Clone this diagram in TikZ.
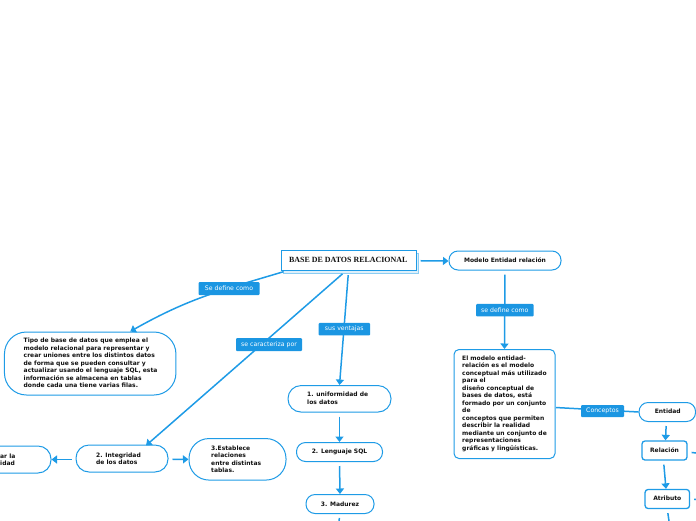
\documentclass[tikz,border=0pt]{standalone}
\usepackage{fontspec}
\setmainfont{DejaVu Sans}
\newfontfamily\titlefont{Liberation Serif}
\usetikzlibrary{arrows.meta,calc}
\definecolor{mapblue}{HTML}{1E9BE6}
\definecolor{mapshadow}{HTML}{8CCDF3}
\definecolor{tagblue}{HTML}{1B96E2}
\definecolor{ink}{HTML}{111111}
\tikzset{
  x=1pt,y=-1pt,
  shapebox/.style={draw=mapblue,fill=white,line width=1pt,inner sep=0pt},
  pill/.style={shapebox,rounded corners=#1},
  txt/.style={anchor=north west,inner sep=0pt,align=left,text=ink,font=\fontsize{6}{7.5}\selectfont\bfseries},
  ctxt/.style={inner sep=0pt,align=center,text=ink,font=\fontsize{6}{7.5}\selectfont\bfseries},
  tag/.style={fill=tagblue,text=white,rounded corners=1pt,inner sep=0pt,font=\fontsize{6.2}{7.5}\selectfont},
  conn/.style={draw=mapblue,line width=1.5pt},
  arr/.style={conn,-{Triangle[length=5.5pt,width=8pt]}},
}
\begin{document}
\begin{tikzpicture}
\useasboundingbox (0,0) rectangle (696,520);
\clip (0,0) rectangle (696,520);
% nodes
\node[draw=mapshadow,fill=mapshadow!30,line width=1pt,inner sep=0pt,minimum width=135pt,minimum height=20pt] (titleshadow) at (351.2,263) {};
\node[shapebox,minimum width=135pt,minimum height=20pt] (title) at (348.5,260.7) {};
\node[inner sep=0pt,text=ink,font=\titlefont\fontsize{7.95}{10}\selectfont\bfseries] (titletext) at (348.3,260.3) {BASE DE DATOS RELACIONAL};
\node[pill=22pt,minimum width=171.5pt,minimum height=63pt] (def) at (90.2,363.5) {};
\node[txt] (deftext) at (23.5,338) {Tipo de base de datos que emplea el\\modelo relacional para representar y\\crear uniones entre los distintos datos\\de forma que se pueden consultar y\\actualizar usando el lenguaje SQL, esta\\información se almacena en tablas\\donde cada una tiene varias filas.};
\node[pill=13pt,minimum width=92pt,minimum height=27pt] (integ) at (122,458.5) {};
\node[txt] (integtext) at (96,452.5) {2. Integridad\\de los datos};
\node[pill=20pt,minimum width=97pt,minimum height=41.5pt] (estab) at (237.5,459.3) {};
\node[txt] (estabtext) at (211,445.5) {3.Establece\\relaciones\\entre distintas\\tablas.};
\node[pill=13pt,minimum width=91pt,minimum height=27pt] (leftn) at (5.5,459.5) {};
\node[txt] (lefttext) at (0,453.5) {ar la\\idad};
\node[pill=13pt,minimum width=103pt,minimum height=26.5pt] (uni) at (339.5,398.8) {};
\node[txt] (unitext) at (307,392) {1. uniformidad de\\los datos};
\node[pill=9pt,minimum width=86pt,minimum height=19pt] (leng) at (339.5,452) {};
\node[ctxt] (lengtext) at (339.5,452) {2. Lenguaje SQL};
\node[pill=9pt,minimum width=68pt,minimum height=19pt] (mad) at (340,504) {};
\node[ctxt] (madtext) at (340,504) {3. Madurez};
\node[pill=9pt,minimum width=112pt,minimum height=19pt] (modelo) at (505,260.5) {};
\node[ctxt] (modelotext) at (505,260.5) {Modelo Entidad relación};
\node[pill=5pt,minimum width=101pt,minimum height=109pt] (er) at (504.5,404) {};
\node[txt] (ertext) at (462,355.7) {El modelo entidad-\\relación es el modelo\\conceptual más utilizado\\para el\\diseño conceptual de\\bases de datos, está\\formado por un conjunto\\de\\conceptos que permiten\\describir la realidad\\mediante un conjunto de\\representaciones\\gráficas y lingüísticas.};
\node[pill=9pt,minimum width=56.5pt,minimum height=19pt] (ent) at (667.3,412) {};
\node[ctxt] (enttext) at (667.8,411.7) {Entidad};
\node[pill=3pt,line width=1.3pt,minimum width=45pt,minimum height=19pt] (rel) at (664.5,450.5) {};
\node[ctxt] (reltext) at (664.5,450.5) {Relación};
\node[pill=3pt,line width=1.3pt,minimum width=44.5pt,minimum height=19pt] (atr) at (667.3,499) {};
\node[ctxt] (atrtext) at (667.3,498.7) {Atributo};
\coordinate (edgeA) at (696,453);
\coordinate (edgeB) at (696,499.5);
\coordinate (edgeC) at (669,521);
\coordinate (edgeD) at (339,521);
% connectors
\draw[arr,shorten <=4pt] (title.east) -- ($(modelo.west)+(0,0.5)$);
\draw[arr,shorten <=0pt] ($(title.south west)+(3,0.5)$) .. controls +(-60,18) and +(60,-34) .. ($(def.north)+(40,0)$);
\draw[arr,shorten <=4pt] ($(title.south)+(-3,0)$) -- ($(integ.north)+(24,1)$);
\draw[arr,shorten <=4pt] (title.south) -- (uni.north);
\draw[arr,shorten <=4pt] (modelo.south) -- (er.north);
\draw[arr,shorten <=4pt] (uni.south) -- (leng.north);
\draw[arr,shorten <=4pt] (leng.south) -- (mad.north);
\draw[arr,shorten <=4pt] ($(integ.west)+(0,1)$) -- ($(leftn.east)+(0,0)$);
\draw[arr,shorten <=4pt] ($(integ.east)+(0,1)$) -- ($(estab.west)+(0,0)$);
\draw[conn,shorten <=0.5pt] (er.east) ++(0,3.5) -- (ent.west);
\draw[arr,shorten <=4pt] ($(ent.south)+(-1,0)$) -- ($(rel.north)+(1,0)$);
\draw[arr,shorten <=4pt] ($(rel.south)+(-1,0)$) -- (atr.north -| 666,0);
\draw[conn,shorten <=4pt] (rel.east) ++(0,1.5) -- (edgeA);
\draw[conn,shorten <=4pt] (atr.east) -- (edgeB);
\draw[conn,shorten <=4pt] (atr.south) -- (edgeC);
\draw[conn,shorten <=4pt] (mad.south) -- (edgeD);
% labels on connectors
\node[tag,minimum width=61pt,minimum height=13pt] (tagA) at (229,288.5) {Se define como\hspace{5pt}};
\node[tag,minimum width=66pt,minimum height=13pt] (tagB) at (269,344.5) {se caracteriza por};
\node[tag,minimum width=51.5pt,minimum height=12.5pt] (tagC) at (344.3,329.2) {sus ventajas};
\node[tag,minimum width=57.5pt,minimum height=12.5pt] (tagD) at (504.8,310.2) {se define como};
\node[tag,minimum width=43pt,minimum height=12pt] (tagE) at (602.5,411) {Conceptos};
\end{tikzpicture}
\end{document}
